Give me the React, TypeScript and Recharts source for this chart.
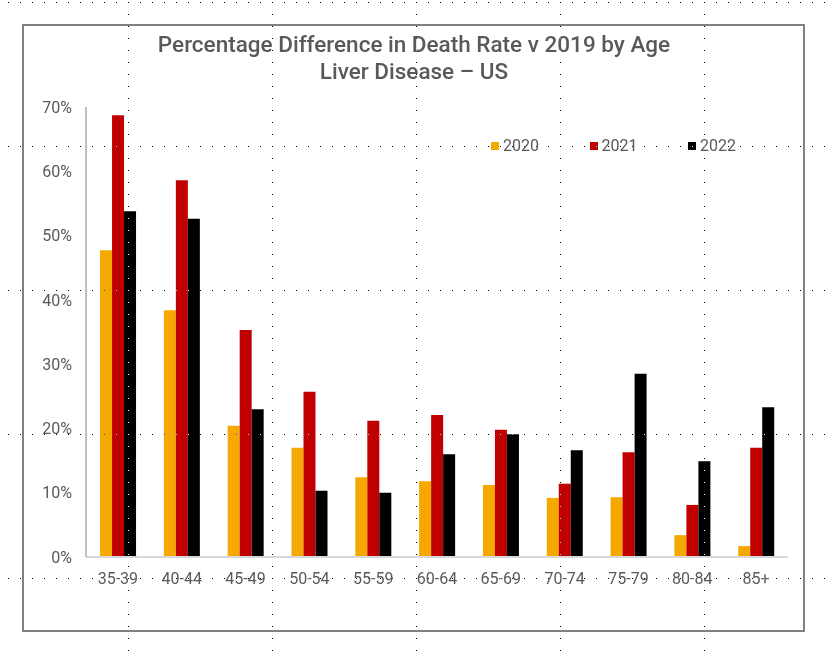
import React from "react";
import { Bar, BarChart, Legend, XAxis, YAxis } from "recharts";

// age bands and % change in liver-disease death rate vs 2019
const AGES = ["35-39", "40-44", "45-49", "50-54", "55-59", "60-64", "65-69", "70-74", "75-79", "80-84", "85+"];
const Y2020 = [47.7, 38.4, 20.4, 17.0, 12.4, 11.8, 11.2, 9.2, 9.3, 3.4, 1.7];
const Y2021 = [68.7, 58.6, 35.3, 25.7, 21.2, 22.1, 19.8, 11.4, 16.3, 8.1, 17.0];
const Y2022 = [53.8, 52.6, 23.0, 10.3, 10.0, 16.0, 19.1, 16.6, 28.5, 14.9, 23.3];
const Y_TICKS = [0, 10, 20, 30, 40, 50, 60, 70];

const SERIES = [
  { key: "y2020", name: "2020", color: "#F5A800" },
  { key: "y2021", name: "2021", color: "#C00000" },
  { key: "y2022", name: "2022", color: "#000000" },
];

const data = AGES.map((age, i) => ({
  age,
  y2020: Y2020[i],
  y2021: Y2021[i],
  y2022: Y2022[i],
}));

const FONT = "Roboto, 'Liberation Sans', Arial, sans-serif";
const TEXT = "#595959";

// sheet page-break dots, drawn over everything
const H_LINES = [2, 146, 290, 434, 578];
const V_LINES = [128, 272, 416, 560, 704];

function renderLegend() {
  return (
    <div style={{ display: "flex", fontFamily: FONT, fontSize: 16, lineHeight: "16px", color: TEXT }}>
      {SERIES.map((s) => (
        <div key={s.key} style={{ display: "flex", alignItems: "center", width: 98.5 }}>
          <span style={{ display: "inline-block", width: 8, height: 8, background: s.color, marginRight: 4 }} />
          <span>{s.name}</span>
        </div>
      ))}
    </div>
  );
}

export default function App() {
  return (
    <div style={{ position: "relative", width: 828, height: 660, background: "#fff", overflow: "hidden" }}>
      <style>{"body{margin:0}"}</style>

      <div
        style={{
          position: "absolute",
          left: 22,
          top: 24,
          width: 783,
          height: 608,
          boxSizing: "border-box",
          border: "2px solid #808080",
        }}
      />

      <div
        style={{
          position: "absolute",
          left: 0,
          top: 31,
          width: 828,
          textAlign: "center",
          fontFamily: FONT,
          fontWeight: 500,
          fontSize: 22.5,
          lineHeight: "27px",
          color: TEXT,
        }}
      >
        <div>Percentage Difference in Death Rate v 2019 by Age</div>
        <div>Liver Disease – US</div>
      </div>

      <div style={{ position: "absolute", left: 0, top: 0 }}>
        <BarChart
          width={828}
          height={660}
          data={data}
          margin={{ top: 107, right: 40, left: 26, bottom: 73 }}
          barCategoryGap="22%"
          barGap={0}
        >
          <XAxis
            dataKey="age"
            height={30}
            axisLine={{ stroke: "#D9D9D9", strokeWidth: 2 }}
            tickLine={false}
            tickMargin={10}
            tick={{ fill: TEXT, fontSize: 16, fontFamily: FONT }}
          />
          <YAxis
            width={60}
            domain={[0, 70]}
            ticks={Y_TICKS}
            interval={0}
            tickFormatter={(v) => `${v}%`}
            axisLine={{ stroke: "#BFBFBF", strokeWidth: 2 }}
            tickLine={false}
            tickMargin={8}
            tick={{ fill: TEXT, fontSize: 16, fontFamily: FONT }}
          />
          <Legend
            layout="horizontal"
            verticalAlign="middle"
            align="center"
            content={renderLegend}
            wrapperStyle={{ top: 138, left: 491, width: 300, height: 16 }}
          />
          {SERIES.map((s) => (
            <Bar key={s.key} dataKey={s.key} name={s.name} fill={s.color} isAnimationActive={false} />
          ))}
        </BarChart>
      </div>

      <svg
        width={828}
        height={660}
        style={{ position: "absolute", left: 0, top: 0, pointerEvents: "none", mixBlendMode: "difference" }}
      >
        {H_LINES.map((y) => (
          <line key={`h${y}`} x1={8} x2={828} y1={y + 0.5} y2={y + 0.5} stroke="#fff" strokeDasharray="1 11" />
        ))}
        {V_LINES.map((x) => (
          <line key={`v${x}`} x1={x + 0.5} x2={x + 0.5} y1={2} y2={660} stroke="#fff" strokeDasharray="1 11" />
        ))}
      </svg>
    </div>
  );
}
